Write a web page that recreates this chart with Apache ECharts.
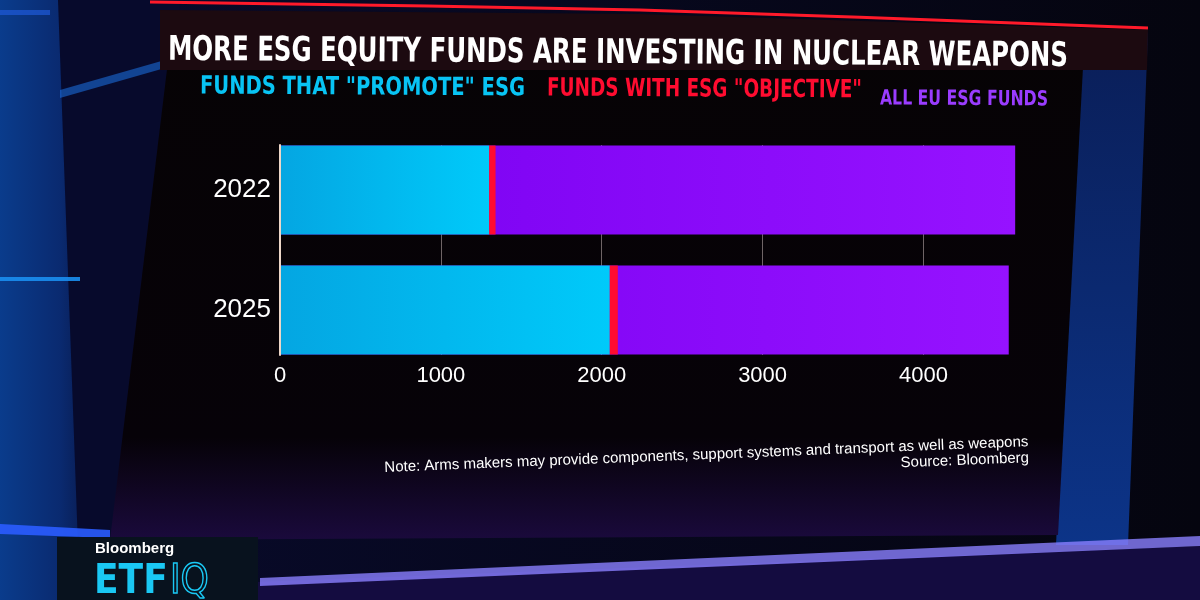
<!DOCTYPE html>
<html>
<head>
<meta charset="utf-8">
<script src="https://cdn.jsdelivr.net/npm/echarts@6/dist/echarts.min.js"></script>
<style>
  html, body { margin: 0; padding: 0; background: #0b1038; }
  #chart { width: 1200px; height: 600px; }
</style>
</head>
<body>
<div id="chart"></div>
<script>
// ---- Data ----
const years = ['2022', '2025'];
const promoteESG = [1300, 2050];     // Funds that "promote" ESG
const objectiveESG = [40, 50];       // Funds with ESG "objective"
const allEUESG = [4570, 4530];       // All EU ESG funds (total)
const xTicks = [0, 1000, 2000, 3000, 4000];

const titleText = 'MORE ESG EQUITY FUNDS ARE INVESTING IN NUCLEAR WEAPONS';
const legendNames = ['FUNDS THAT "PROMOTE" ESG', 'FUNDS WITH ESG "OBJECTIVE"', 'ALL EU ESG FUNDS'];
const noteText = 'Note: Arms makers may provide components, support systems and transport as well as weapons\nSource: Bloomberg';

const CYAN = '#08c4f4', RED = '#ff0c30', PURPLE = '#9a3cff';
const BOLD_FONT = "'DejaVu Sans', sans-serif";
const LAB_FONT = "'Liberation Sans', 'Helvetica', sans-serif";

// horizontal condensing factor so a bold label spans a given width
const ctx = document.createElement('canvas').getContext('2d');
function squeeze(text, size, target) {
  ctx.font = 'bold ' + size + 'px ' + BOLD_FONT;
  return Math.min(1, target / ctx.measureText(text).width);
}
function squeezedText(text, x, y, size, target, fill, rot) {
  return { type: 'text', z: 6, silent: true, x: x, y: y, rotation: rot || 0,
    scaleX: squeeze(text, size, target),
    style: { text: text, fill: fill, fontSize: size, fontWeight: 'bold', fontFamily: BOLD_FONT,
      align: 'left', verticalAlign: 'middle' } };
}

const chart = echarts.init(document.getElementById('chart'));
const AX_MAX = 4600;
const G_LEFT = 280, G_WIDTH = 740;
chart.setOption({
  backgroundColor: {
    type: 'linear', x: 0, y: 0, x2: 1, y2: 0,
    colorStops: [{offset: 0, color: '#0a3c8c'}, {offset: 0.05, color: '#0a2a70'}, {offset: 0.1, color: '#080a2a'}, {offset: 1, color: '#05050f'}]
  },
  animation: false,
  grid: [
    { left: G_LEFT, width: G_WIDTH, top: 130, height: 240 },
    { left: G_LEFT, width: G_WIDTH, top: 145, height: 210 }
  ],
  xAxis: [
    { type: 'value', gridIndex: 0, min: 0, max: AX_MAX, interval: 1000,
      axisLine: { show: false }, axisTick: { show: false }, axisLabel: { show: false }, splitLine: { show: false } },
    { type: 'value', gridIndex: 1, min: 0, max: AX_MAX, interval: 1000,
      axisLine: { show: false }, axisTick: { show: false },
      axisLabel: { color: '#ffffff', fontSize: 22, margin: 10, showMaxLabel: false, fontFamily: LAB_FONT,
        formatter: v => xTicks.includes(v) ? String(v) : '' },
      splitLine: { show: true, showMinLine: false, showMaxLine: false, lineStyle: { color: '#6e6466', width: 1 } } }
  ],
  yAxis: [
    { type: 'category', gridIndex: 0, data: years, inverse: true,
      axisLine: { show: false }, axisTick: { show: false },
      axisLabel: { color: '#ffffff', fontSize: 26, margin: 9, fontFamily: LAB_FONT, padding: [12, 0, 0, 0] } },
    { type: 'category', gridIndex: 1, data: years, inverse: true, z: 10,
      axisLine: { show: true, lineStyle: { color: '#ecd6c8', width: 2 } },
      axisTick: { show: false }, axisLabel: { show: false } }
  ],
  series: [
    {
      name: legendNames[2], type: 'bar', xAxisIndex: 0, yAxisIndex: 0, data: allEUESG, barWidth: 89, barGap: '-100%',
      itemStyle: { color: { type: 'linear', x: 0, y: 0, x2: 1, y2: 0,
        colorStops: [{offset: 0, color: '#7800f0'}, {offset: 1, color: '#9612ff'}] } },
      z: 2
    },
    {
      name: legendNames[0], type: 'bar', xAxisIndex: 0, yAxisIndex: 0, stack: 'esg', data: promoteESG, barWidth: 89, barGap: '-100%',
      itemStyle: { color: { type: 'linear', x: 0, y: 0, x2: 1, y2: 0,
        colorStops: [{offset: 0, color: '#04a6e2'}, {offset: 1, color: '#00cafa'}] } },
      z: 3
    },
    {
      name: legendNames[1], type: 'bar', xAxisIndex: 0, yAxisIndex: 0, stack: 'esg', data: objectiveESG, barWidth: 89, barGap: '-100%',
      itemStyle: { color: RED }, z: 3
    }
  ],
  graphic: [
    // studio: navy side panel on the left
    { type: 'polygon', z: -20, silent: true,
      shape: { points: [[58, 0], [180, 0], [150, 600], [80, 600]] },
      style: { fill: '#070a2c' } },
    // blue light streaks on left
    { type: 'polygon', z: -19, silent: true,
      shape: { points: [[60, 90], [172, 58], [172, 66], [60, 98]] }, style: { fill: '#1a6ad8', opacity: 0.6 } },
    { type: 'rect', z: -19, silent: true, shape: { x: 0, y: 10, width: 50, height: 5 }, style: { fill: '#1e5ad8', opacity: 0.7 } },
    { type: 'rect', z: -19, silent: true, shape: { x: 0, y: 277, width: 80, height: 4 }, style: { fill: '#1a8ef0', opacity: 0.9 } },
    // blue panel right of the screen
    { type: 'polygon', z: -18, silent: true,
      shape: { points: [[1080, 60], [1148, 32], [1128, 545], [1056, 545]] },
      style: { fill: { type: 'linear', x: 0, y: 0, x2: 0, y2: 1,
        colorStops: [{offset: 0, color: '#0a1e58'}, {offset: 1, color: '#0c3488'}] } } },
    // dark TV screen
    { type: 'polygon', z: -15, silent: true,
      shape: { points: [[172, 28], [1085, 30], [1058, 535], [110, 540]] },
      style: { fill: { type: 'linear', x: 0, y: 0, x2: 0, y2: 1,
        colorStops: [{offset: 0, color: '#060305'}, {offset: 0.8, color: '#060208'}, {offset: 1, color: '#1a0a3c'}] } } },
    // title band
    { type: 'polygon', z: -14, silent: true,
      shape: { points: [[160, 10], [640, 14], [1148, 30], [1147, 70], [160, 70]] },
      style: { fill: '#1c0a10' } },
    // red line across top
    { type: 'polyline', z: -5, silent: true,
      shape: { points: [[150, 2], [640, 10], [1148, 28]], smooth: 0.3 },
      style: { stroke: '#ff1a2a', lineWidth: 3 } },
    // bottom glow strips
    { type: 'polygon', z: -9, silent: true,
      shape: { points: [[0, 524], [110, 530], [110, 538], [0, 534]] },
      style: { fill: '#2a5cff', opacity: 0.9 } },
    { type: 'polygon', z: -9, silent: true,
      shape: { points: [[260, 578], [1200, 536], [1200, 546], [260, 586]] },
      style: { fill: '#8a80ff', opacity: 0.8 } },
    { type: 'polygon', z: -10, silent: true,
      shape: { points: [[150, 586], [1200, 546], [1200, 600], [150, 600]] },
      style: { fill: '#140c40' } },
    // title & legend labels
    squeezedText(titleText, 168, 51, 34, 900, '#ffffff', -0.007),
    squeezedText(legendNames[0], 200, 87, 25, 325, CYAN, -0.006),
    squeezedText(legendNames[1], 547, 89, 25, 315, RED, -0.006),
    squeezedText(legendNames[2], 880, 99, 21, 168, PURPLE, -0.006),
    // note
    { type: 'text', z: 5, x: 1028, y: 434, rotation: 0.04, silent: true,
      style: { text: noteText, fill: '#ffffff', fontSize: 15, lineHeight: 16, align: 'right',
        fontFamily: LAB_FONT } },
    // logo
    { type: 'rect', z: 5, silent: true, shape: { x: 57, y: 537, width: 201, height: 63 },
      style: { fill: '#08121e' } },
    { type: 'text', z: 6, x: 95, y: 541, silent: true,
      style: { text: 'Bloomberg', fill: '#ffffff', fontSize: 15, fontWeight: 'bold', fontFamily: LAB_FONT } },
    { type: 'text', z: 6, x: 94, y: 563, scaleX: 0.9, silent: true,
      style: { text: 'ETF', fill: '#1ac8f4', fontSize: 40, fontWeight: 'bold', fontFamily: BOLD_FONT } },
    { type: 'text', z: 6, x: 170, y: 563, scaleX: 0.9, silent: true,
      style: { text: 'IQ', fill: 'rgba(0,0,0,0)', stroke: '#1ac8f4', lineWidth: 1.5, fontSize: 40,
        fontFamily: BOLD_FONT } }
  ]
});
</script>
</body>
</html>
